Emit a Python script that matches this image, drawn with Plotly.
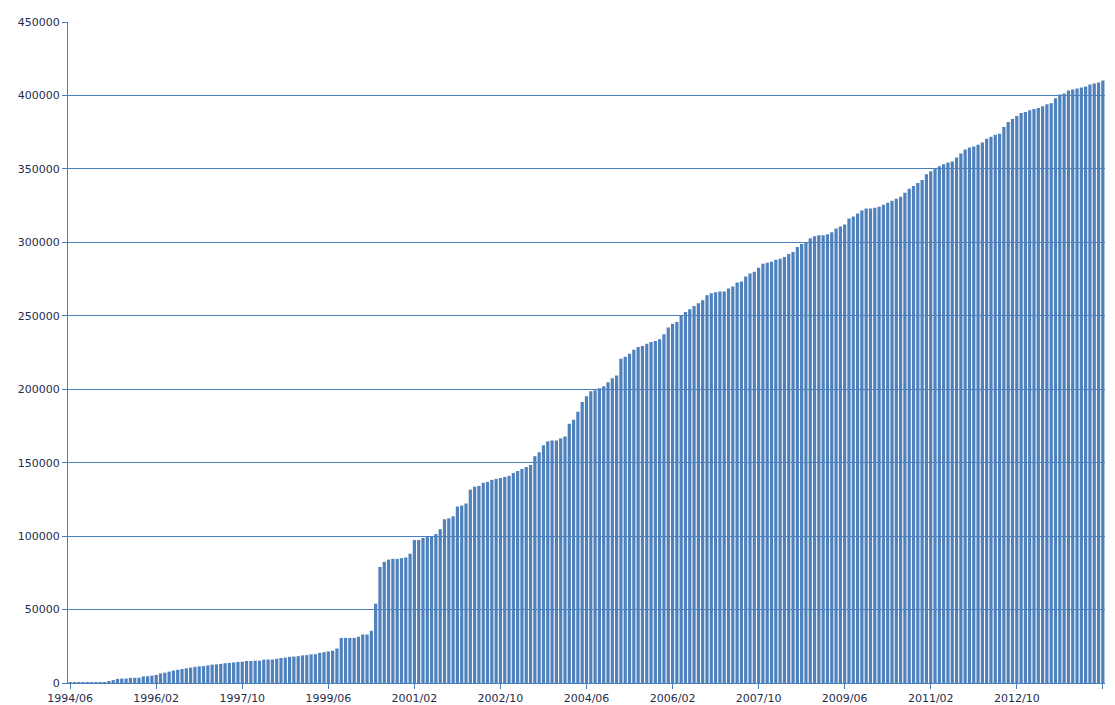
import plotly.graph_objects as go

values = [600,600,600,600,600,600,600,600,600,1200,2000,2800,3000,3000,3500,3500,3600,4500,4600,5000,
5500,6500,7000,7800,8500,9000,9500,10000,10500,11000,11300,11500,12000,12500,12700,13000,13500,13700,14000,14300,
14500,15000,15000,15200,15200,15900,16000,16000,16500,17000,17300,17800,18000,18300,18800,19000,19500,19600,20500,21000,
21500,22000,23500,30700,30700,30700,30700,31500,33000,33000,35500,54000,79000,82500,84000,84500,84500,85000,85500,88000,
97400,97400,98700,100000,100000,101400,104700,111400,112100,113500,120200,120800,122200,131600,133600,134200,136300,136900,138300,139000,
139600,140300,141000,143000,144300,145700,147000,148400,154400,157100,161800,164500,165100,165100,166500,167800,176500,179200,184600,191300,
195300,198700,199300,200700,202000,204700,207400,209400,220800,222100,224200,226800,228800,229500,230900,232200,232900,234000,237500,242000,
244500,245800,250500,252500,254500,256600,258600,260600,263900,265300,266000,266600,266600,268600,270000,272600,273300,276700,278700,280000,
282700,285400,286100,286700,288100,288800,290100,292100,293400,296800,298800,300100,302800,304200,304800,304800,305500,306800,309500,310800,
312200,316200,317600,319600,321600,323000,323000,323600,324300,325600,327000,328300,329700,331000,333700,336400,338400,340400,342400,346400,
348400,350400,351800,353100,354400,355100,357800,360500,363200,364500,365200,366500,367900,370600,371900,373300,373900,378600,382000,384000,
386000,388000,388700,390000,390700,391400,392700,394000,394700,398100,400700,401400,403400,404100,404800,405400,406100,407500,408100,408800,
410200]

months = []
y, m = 1994, 6
for _ in values:
    months.append(f"{y}/{m:02d}")
    m += 1
    if m > 12:
        m = 1; y += 1

tick_idx = list(range(0, len(values), 20))
fig = go.Figure(go.Bar(x=list(range(len(values))), y=values, marker_color="#4F81BD",
                       marker_line_width=0))
fig.update_layout(width=1115, height=705, plot_bgcolor="white", paper_bgcolor="white",
                  margin=dict(l=60, r=18, t=8, b=27), bargap=0.25, showlegend=False,
                  font=dict(family="DejaVu Sans", size=11, color="#1F2D4D"))
fig.update_xaxes(range=[-0.5, len(values) - 0.5], tickvals=tick_idx,
                 ticktext=[months[i] for i in tick_idx], showgrid=False,
                 showline=True, linecolor="#4A7EBB", ticks="outside", tickcolor="#4A7EBB",
                 ticklen=5, tickangle=0)
fig.update_yaxes(range=[0, 450000], dtick=50000, showgrid=True, gridcolor="#4A7EBB",
                 showline=True, linecolor="#4A7EBB", ticks="outside", tickcolor="#4A7EBB",
                 ticklen=5, tickformat="d", zeroline=False)
fig.write_html("out.html")
